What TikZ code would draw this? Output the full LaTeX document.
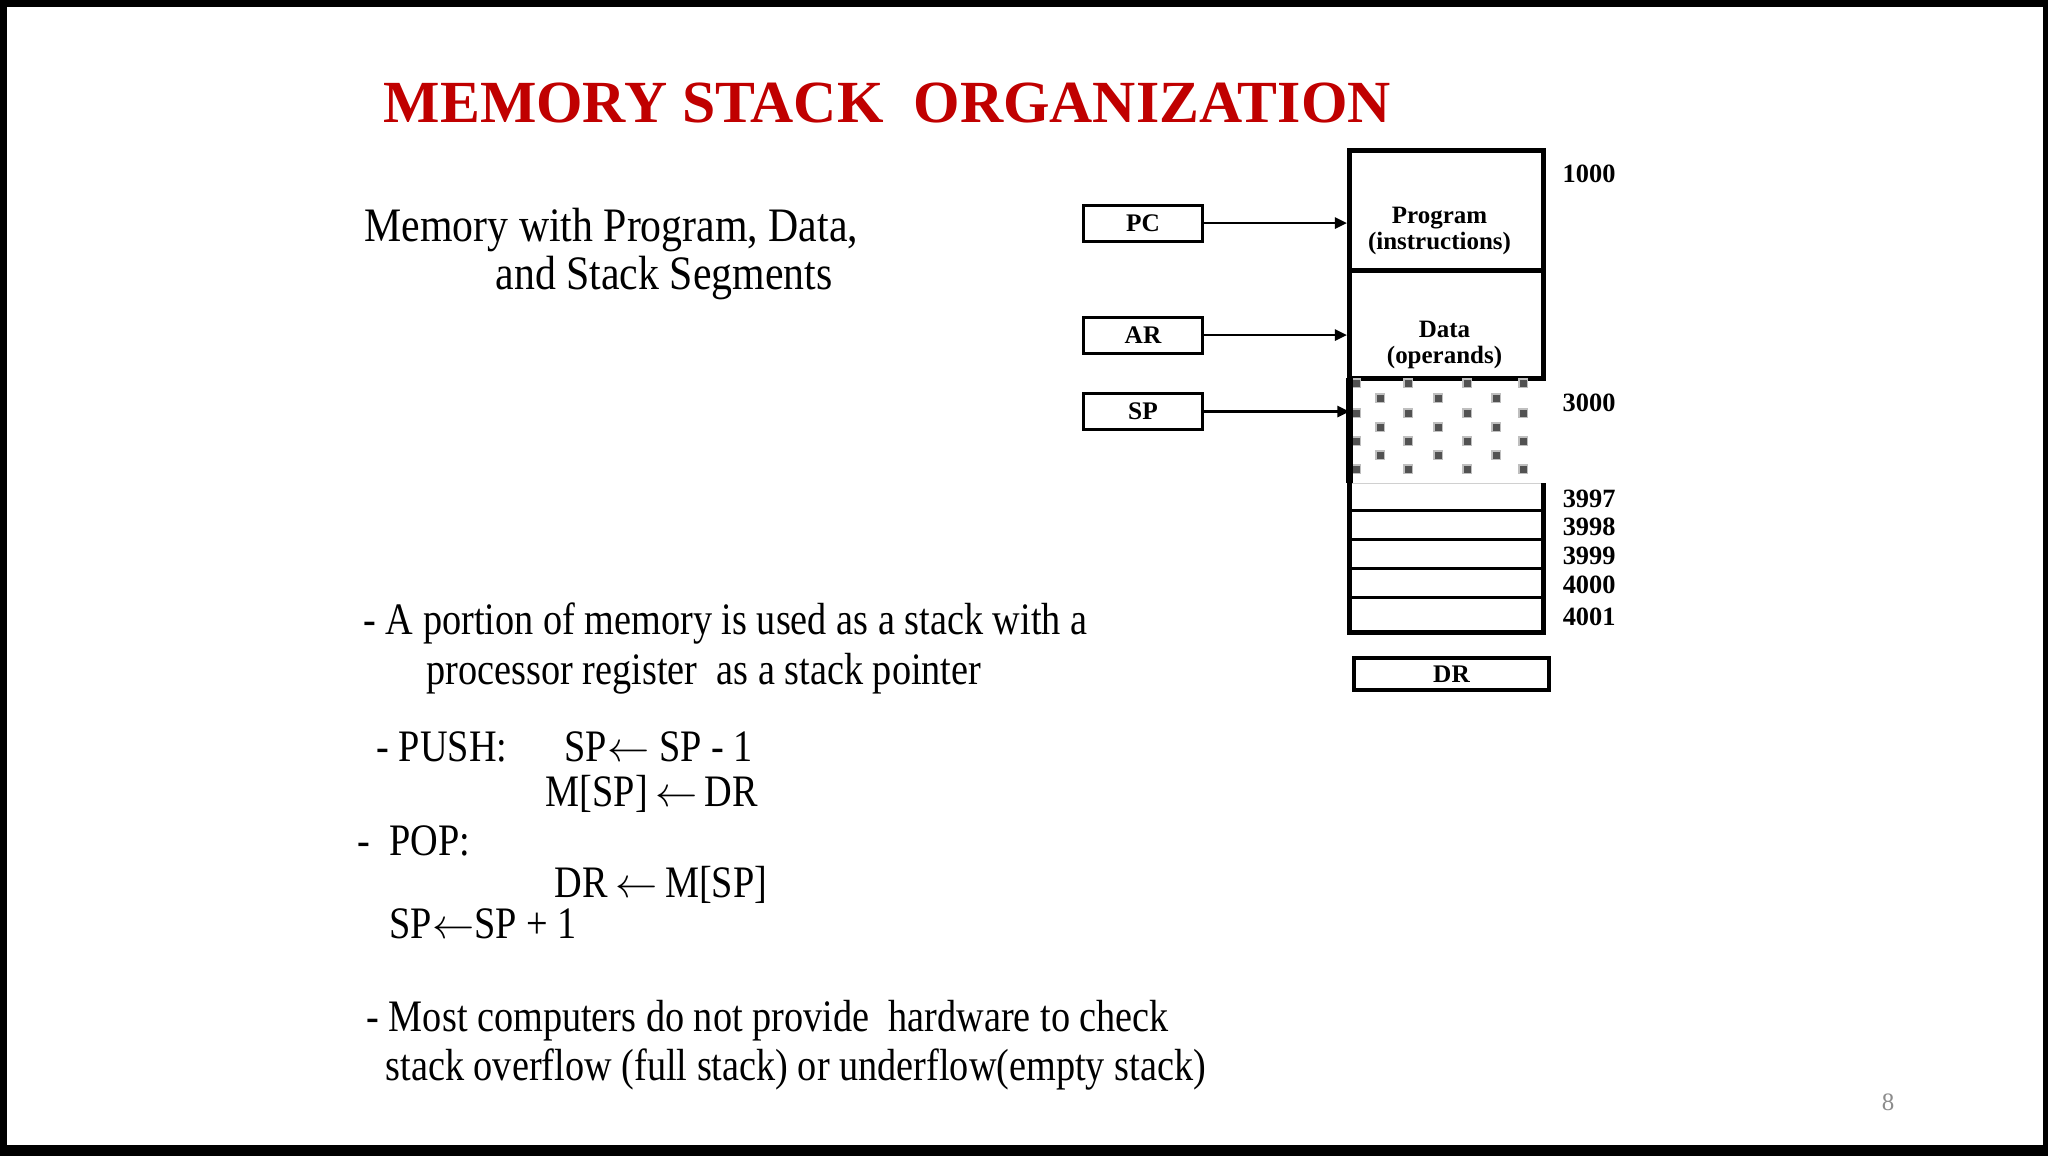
\documentclass[tikz,border=0pt]{standalone}
\usepackage{fontspec}
\setmainfont{Liberation Serif}
\newfontfamily\bodyfont[FakeStretch=0.85]{Liberation Serif}
\newfontfamily\subfont[FakeStretch=0.87]{Liberation Serif}
\usepackage{xcolor}
\usetikzlibrary{arrows.meta,positioning,calc}
\definecolor{TitleRed}{HTML}{C00000}
\definecolor{PageGray}{HTML}{8C8C8C}
\definecolor{CellRule}{HTML}{D0D0D0}

\begin{document}
\begin{tikzpicture}[x=0.01cm,y=-0.01cm,
  title/.style={anchor=base west,inner sep=0,font=\fontsize{17}{20}\selectfont\bfseries,text=TitleRed},
  subtitle/.style={anchor=base west,inner sep=0,font=\subfont\fontsize{13.66}{16}\selectfont},
  body/.style={anchor=base west,inner sep=0,font=\bodyfont\fontsize{12.8}{15}\selectfont},
  reg/.style={draw,line width=0.03cm,minimum width=1.18cm,minimum height=0.36cm,inner sep=0,font=\fontsize{7.2}{8}\selectfont\bfseries},
  seg/.style={draw,line width=0.05cm,minimum width=1.94cm,inner sep=0},
  segtxt/.style={align=center,inner sep=0,font=\fontsize{7.1}{7.4}\selectfont\bfseries},
  cell/.style={minimum width=1.94cm,inner sep=0,outer sep=0},
  addr/.style={anchor=west,inner sep=0,font=\fontsize{7.5}{8}\selectfont\bfseries},
  arrow/.style={-{Triangle[length=0.12cm,width=0.11cm]},line width=0.025cm},
  wall/.style={line width=0.05cm}
]
  \fill[black] (0,0) rectangle (2048,1156);
  \fill[white] (7,7) rectangle (2043,1145);

  \node[title] (title) at (383,122) {MEMORY STACK\ \ ORGANIZATION};
  \node[subtitle] (sub1) at (364,241) {Memory with Program, Data,};
  \node[subtitle] (sub2) at (495,289) {and Stack Segments};

  \node[body] (portion) at (363,634) {- A portion of memory is used as a stack with a};
  \node[body] (portion2) at (426,684) {processor register\ \ as a stack pointer};
  \node[body] (push) at (376,761) {- PUSH:};
  \node[body] (push1) at (564,761) {SP$\leftarrow$ SP - 1};
  \node[body] (push2) at (545,806) {M[SP]\,$\leftarrow$\,DR};
  \node[body] (pop) at (357,855) {-\ \ POP:};
  \node[body] (pop1) at (554,897) {DR\,$\leftarrow$\,M[SP]};
  \node[body] (pop2) at (389,938) {SP$\leftarrow$SP + 1};
  \node[body] (check) at (366,1031) {- Most computers do not provide\ \ hardware to check};
  \node[body] (check2) at (385,1080) {stack overflow (full stack) or underflow(empty stack)};

  \node[reg] (pc) at (1143,223) {PC};
  \node[reg] (ar) at (1143,335) {AR};
  \node[reg] (sp) at (1143,411.5) {SP};

  \node[seg,minimum height=1.20cm] (prog) at (1446.5,210.5) {};
  \node[seg,minimum height=1.08cm] (data) at (1446.5,324.5) {};
  \node[segtxt] (progtxt) at ($(prog.center)+(-7,20)$) {Program\\(instructions)};
  \node[segtxt] (datatxt) at ($(data.center)+(-2,20)$) {Data\\(operands)};

  \node[cell,minimum height=1.045cm] (stk) at (1446.5,430.75) {};
  \foreach \y in {383,413,441,469}
    \foreach \x in {1356,1408,1467,1523} {
      \fill[black!25] ({\x-5},{\y-5}) rectangle ({\x+5},{\y+5});
      \fill[black!68] ({\x-3.5},{\y-3.5}) rectangle ({\x+3.5},{\y+3.5});
    }
  \foreach \y in {398,427,455}
    \foreach \x in {1380,1438,1496} {
      \fill[black!25] ({\x-5},{\y-5}) rectangle ({\x+5},{\y+5});
      \fill[black!68] ({\x-3.5},{\y-3.5}) rectangle ({\x+3.5},{\y+3.5});
    }
  \draw[line width=0.065cm] (stk.north west) -- (stk.south west);

  \node[cell,minimum height=0.27cm,below=0pt of stk] (c1) {};
  \node[cell,minimum height=0.29cm,below=0pt of c1] (c2) {};
  \node[cell,minimum height=0.29cm,below=0pt of c2] (c3) {};
  \node[cell,minimum height=0.29cm,below=0pt of c3] (c4) {};
  \node[cell,minimum height=0.35cm,below=0pt of c4] (c5) {};
  \draw[CellRule,line width=0.01cm] (c1.north west) -- (c1.north east);
  \foreach \i in {1,...,4}
    \draw[line width=0.03cm] (c\i.south west) -- (c\i.south east);
  \draw[wall] (c1.north west) -- (c5.south west) -- (c5.south east) -- (c1.north east);

  \node[addr] (a1000) at (1562,173.5) {1000};
  \node[addr] (a3000) at (1562,403) {3000};
  \foreach \i/\n in {1/3997,2/3998,3/3999,4/4000,5/4001}
    \node[addr,right=0.185cm of c\i.east,yshift=-0.02cm] (a\n) {\n};

  \node[reg,line width=0.04cm,minimum width=1.95cm,minimum height=0.32cm] (dr) at (1451.5,674) {DR};

  \draw[arrow] (pc) -- (pc -| prog.west);
  \draw[arrow] (ar) -- (ar -| data.west);
  \draw[arrow] (sp) -- (sp -| stk.west);

  \node[inner sep=0,font=\fontsize{7.1}{8}\selectfont,text=PageGray] (pagenum) at (1888,1102) {8};
\end{tikzpicture}
\end{document}
